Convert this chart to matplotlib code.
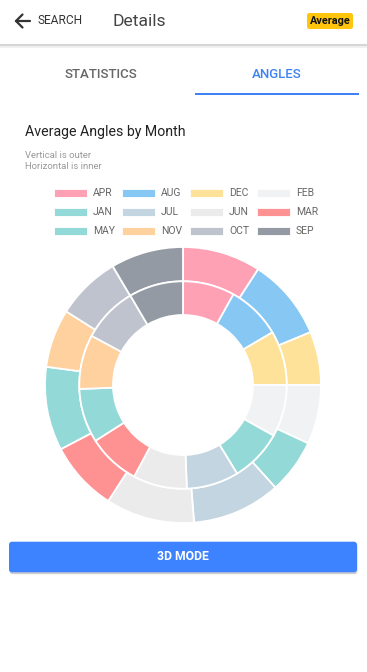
import matplotlib
matplotlib.use('Agg')
import matplotlib.pyplot as plt
from matplotlib.patches import FancyBboxPatch, Rectangle

plt.rcParams['font.family'] = ['Roboto', 'DejaVu Sans']

# ---- data ----
months = ['APR', 'AUG', 'DEC', 'FEB', 'JAN', 'JUL', 'JUN', 'MAR', 'MAY', 'NOV', 'OCT', 'SEP']
vertical = [33.0, 34.5, 22.5, 25.0, 23.0, 37.4, 37.4, 29.5, 35.3, 24.6, 27.2, 30.6]   # outer ring
horizontal = [29.1, 30.4, 30.5, 29.2, 29.4, 29.3, 30.2, 29.4, 30.3, 30.5, 31.2, 30.5]  # inner ring
colors = ['#FFA1B5', '#86C7F3', '#FFE29A', '#F1F2F4', '#93D9D7', '#C2D5E0',
          '#EBEBEB', '#FE9192', '#93D9D7', '#FFD19E', '#BEC3CD', '#939AA3']

W, H = 367, 672
fig = plt.figure(figsize=(W / 100, H / 100), dpi=100)
fig.patch.set_facecolor('white')

# UI layer in pixel coords
ui = fig.add_axes([0, 0, 1, 1])
ui.set_xlim(0, W)
ui.set_ylim(H, 0)
ui.axis('off')

# header
ui.plot([16, 30], [21, 21], color='#333333', lw=1.6, solid_capstyle='round')
ui.plot([16, 22.5], [21, 14.5], color='#333333', lw=1.6, solid_capstyle='round')
ui.plot([16, 22.5], [21, 27.5], color='#333333', lw=1.6, solid_capstyle='round')
ui.text(37, 21, 'SEARCH', fontsize=8.6, color='#333333', va='center', ha='left')
ui.text(113, 21, 'Details', fontsize=12.6, color='#444444', va='center', ha='left')
ui.add_patch(FancyBboxPatch((307, 13), 46, 16, boxstyle='round,pad=0,rounding_size=2.5',
                            fc='#FFC40C', ec='none'))
ui.text(330, 21.3, 'Average', fontsize=7.8, fontweight='bold', color='#111111', va='center', ha='center')
ui.plot([0, W], [45.3, 45.3], color='#d6d6d6', lw=1.5)
ui.plot([0, W], [46.8, 46.8], color='#eeeeee', lw=1.2)

# tabs
ui.text(101, 74, 'STATISTICS', fontsize=9.5, fontweight='medium', color='#666666', va='center', ha='center')
ui.text(277, 74, 'ANGLES', fontsize=9.5, fontweight='medium', color='#3F82F6', va='center', ha='center')
ui.add_patch(Rectangle((195, 92.6), 164, 2, fc='#3F82F6', ec='none'))

# title + notes
ui.text(25, 132, 'Average Angles by Month', fontsize=10.2, color='#222222', va='center', ha='left')
ui.text(25, 155, 'Vertical is outer', fontsize=6.8, color='#999999', va='center', ha='left')
ui.text(25, 166.5, 'Horizontal is inner', fontsize=6.8, color='#999999', va='center', ha='left')

# legend grid (4 columns x 3 rows)
col_x = [54, 122, 190, 257]
row_y = [193.3, 212.3, 231]
for i, (m, c) in enumerate(zip(months, colors)):
    x0 = col_x[i % 4]
    y0 = row_y[i // 4]
    ui.add_patch(Rectangle((x0, y0 - 4), 32.5, 8, fc=c, ec='white', lw=0.6))
    ui.text(x0 + 39, y0, m, fontsize=7.5, color='#666666', va='center', ha='left')

# button
ui.add_patch(FancyBboxPatch((9.5, 543.2), 348, 31, boxstyle='round,pad=0,rounding_size=3',
                            fc='#cfcfcf', ec='none'))
ui.add_patch(FancyBboxPatch((9, 541.7), 348, 30.6, boxstyle='round,pad=0,rounding_size=3',
                            fc='#3D82FE', ec='none'))
ui.text(183, 557, '3D MODE', fontsize=8.8, fontweight='bold', color='white', va='center', ha='center')

# donut chart
cx, cy, r_out = 183, 385, 138
r_mid, r_in = 103.7, 70
pie_ax = fig.add_axes([(cx - r_out) / W, (H - cy - r_out) / H, 2 * r_out / W, 2 * r_out / H])
wp = dict(edgecolor='white', linewidth=1.3)
pie_ax.pie(vertical, colors=colors, radius=1.0, startangle=90, counterclock=False,
           wedgeprops=dict(width=(r_out - r_mid) / r_out, **wp))
pie_ax.pie(horizontal, colors=colors, radius=r_mid / r_out, startangle=90, counterclock=False,
           wedgeprops=dict(width=(r_mid - r_in) / r_out, **wp))
pie_ax.set_xlim(-1, 1)
pie_ax.set_ylim(-1, 1)
pie_ax.axis('off')

fig.savefig('out.png', dpi=100, facecolor='white')
